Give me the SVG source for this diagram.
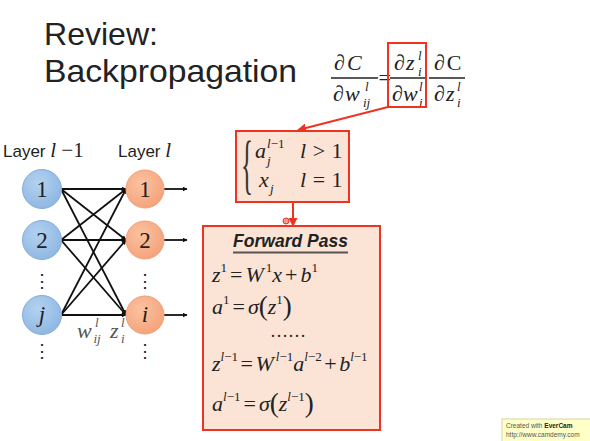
<svg xmlns="http://www.w3.org/2000/svg" width="590" height="441" viewBox="0 0 590 441">
<style>
.title{font-family:"Liberation Sans",Arial,sans-serif;font-size:32px;fill:#222}
.m{font-family:"Liberation Serif","Times New Roman",serif;font-size:22px;fill:#222}
.i{font-style:italic}
.s{font-size:13px}
.lay{font-family:"Liberation Sans",Arial,sans-serif;font-size:17px;fill:#222}
.num{font-family:"Liberation Serif","Times New Roman",serif;font-size:23px;fill:#222;text-anchor:middle}
.edge{stroke:#111;stroke-width:1.8;fill:none}
.red{stroke:#ee3322;stroke-width:2;fill:none}
.box{fill:#fbe4d6;stroke:#ee3322;stroke-width:2}
.dots{font-family:"DejaVu Serif",serif;font-size:18px;fill:#222;text-anchor:middle}
</style>
<defs>
<marker id="ab" viewBox="0 0 10 10" refX="9" refY="5" markerWidth="5" markerHeight="5" orient="auto-start-reverse" markerUnits="userSpaceOnUse"><path d="M0,0 L10,5 L0,10 z" fill="#111"/></marker>
<marker id="ar" viewBox="0 0 10 10" refX="9" refY="5" markerWidth="9" markerHeight="9" orient="auto" markerUnits="userSpaceOnUse"><path d="M0,0 L10,5 L0,10 z" fill="#ee3322"/></marker>
<radialGradient id="gb" cx="0.4" cy="0.35" r="0.7"><stop offset="0" stop-color="#b4d2f0"/><stop offset="1" stop-color="#8db6e2"/></radialGradient>
<radialGradient id="go" cx="0.4" cy="0.35" r="0.7"><stop offset="0" stop-color="#fbc2a0"/><stop offset="1" stop-color="#f4a27a"/></radialGradient>
</defs>

<g id="title">
<text class="title" x="44" y="45" textLength="114" lengthAdjust="spacingAndGlyphs">Review:</text>
<text class="title" x="44" y="82" textLength="253" lengthAdjust="spacingAndGlyphs">Backpropagation</text>
</g>

<g id="main-equation">
<text class="m" x="334" y="70" letter-spacing="2">∂<tspan class="i">C</tspan></text>
<line x1="331" y1="78" x2="378" y2="78" stroke="#222" stroke-width="1.3"/>
<text class="m" x="333" y="101" letter-spacing="1">∂<tspan class="i">w</tspan></text>
<text class="m i s" x="365" y="91">l</text>
<text class="m i s" x="363" y="107">ij</text>
<text class="m" x="378.5" y="85">=</text>
<text class="m" x="394" y="70" letter-spacing="1">∂<tspan class="i">z</tspan></text>
<text class="m i s" x="418" y="60">l</text>
<text class="m i s" x="418" y="76">i</text>
<line x1="390" y1="78" x2="425" y2="78" stroke="#222" stroke-width="1.3"/>
<text class="m" x="392" y="101">∂<tspan class="i">w</tspan></text>
<text class="m i s" x="419" y="91">l</text>
<text class="m i s" x="419" y="107">i</text>
<text class="m" x="434" y="70" letter-spacing="2">∂C</text>
<line x1="429" y1="78" x2="465" y2="78" stroke="#222" stroke-width="1.3"/>
<text class="m" x="434" y="101" letter-spacing="1">∂<tspan class="i">z</tspan></text>
<text class="m i s" x="457" y="91">l</text>
<text class="m i s" x="457" y="107">i</text>
</g>

<g id="highlight">
<rect x="388" y="43" width="38" height="64" class="red"/>
</g>

<g id="network-labels">
<text class="lay" x="3" y="157">Layer <tspan class="m i" style="font-size:21px">l</tspan><tspan class="m" style="font-size:21px"> −1</tspan></text>
<text class="lay" x="118" y="157">Layer <tspan class="m i" style="font-size:21px">l</tspan></text>
</g>

<g id="connectors">
<line class="edge" x1="61" y1="189" x2="126" y2="189" marker-end="url(#ab)"/>
<line class="edge" x1="61" y1="189" x2="126" y2="240" marker-end="url(#ab)"/>
<line class="edge" x1="61" y1="189" x2="126" y2="315" marker-end="url(#ab)"/>
<line class="edge" x1="61" y1="240" x2="126" y2="189" marker-end="url(#ab)"/>
<line class="edge" x1="61" y1="240" x2="126" y2="240" marker-end="url(#ab)"/>
<line class="edge" x1="61" y1="240" x2="126" y2="315" marker-end="url(#ab)"/>
<line class="edge" x1="61" y1="315" x2="126" y2="189" marker-end="url(#ab)"/>
<line class="edge" x1="61" y1="315" x2="126" y2="240" marker-end="url(#ab)"/>
<line class="edge" x1="61" y1="315" x2="126" y2="315" marker-end="url(#ab)"/>
<line class="edge" x1="164" y1="189" x2="187" y2="189" marker-end="url(#ab)"/>
<line class="edge" x1="164" y1="240" x2="187" y2="240" marker-end="url(#ab)"/>
<line class="edge" x1="164" y1="315" x2="187" y2="315" marker-end="url(#ab)"/>
<line class="red" x1="388" y1="107" x2="298" y2="130" marker-end="url(#ar)"/>
<line class="red" x1="293" y1="202" x2="293" y2="226" marker-end="url(#ar)"/>
<circle cx="286" cy="221" r="3" fill="#f29a8a" stroke="#ee3322" stroke-width="1"/>
</g>

<g id="node-b1"><circle cx="42" cy="189" r="19.5" fill="url(#gb)" stroke="#86add9" stroke-width="1"/><text class="num" x="42" y="197">1</text></g>
<g id="node-b2"><circle cx="42" cy="240" r="19.5" fill="url(#gb)" stroke="#86add9" stroke-width="1"/><text class="num" x="42" y="248">2</text></g>
<g id="node-bj"><circle cx="42" cy="315" r="19.5" fill="url(#gb)" stroke="#86add9" stroke-width="1"/><text class="num i" x="42" y="322">j</text></g>
<g id="node-o1"><circle cx="145" cy="189" r="19" fill="url(#go)" stroke="#f0a07a" stroke-width="1"/><text class="num" x="145" y="197">1</text></g>
<g id="node-o2"><circle cx="145" cy="240" r="19" fill="url(#go)" stroke="#f0a07a" stroke-width="1"/><text class="num" x="145" y="248">2</text></g>
<g id="node-oi"><circle cx="145" cy="315" r="19" fill="url(#go)" stroke="#f0a07a" stroke-width="1"/><text class="num i" x="145" y="322">i</text></g>

<g id="ellipses">
<text class="dots" x="42" y="287">⋮</text>
<text class="dots" x="145" y="287">⋮</text>
<text class="dots" x="42" y="357">⋮</text>
<text class="dots" x="145" y="357">⋮</text>
</g>

<g id="edge-labels">
<text class="m i" x="77" y="338" style="fill:#555">w</text>
<text class="m i s" x="95" y="327" style="fill:#555">l</text>
<text class="m i s" x="93.5" y="343" style="fill:#555">ij</text>
<text class="m i" x="110" y="338" style="fill:#555">z</text>
<text class="m i s" x="121" y="327" style="fill:#555">l</text>
<text class="m i s" x="121" y="343" style="fill:#555">i</text>
</g>

<g id="input-box">
<rect class="box" x="236" y="131" width="113" height="71"/>
<text class="m" transform="translate(241,186) scale(0.38,1)" style="font-size:66px;fill:#333">{</text>
<text class="m i" x="255" y="158">a</text>
<text class="m s" x="267" y="148"><tspan class="i">l</tspan>−1</text>
<text class="m i s" x="267" y="165">j</text>
<text class="m" x="300" y="158" word-spacing="1"><tspan class="i">l</tspan> &gt; 1</text>
<text class="m i" x="259" y="187">x</text>
<text class="m i s" x="270" y="193">j</text>
<text class="m" x="300" y="187" word-spacing="1"><tspan class="i">l</tspan> = 1</text>
</g>

<g id="forward-pass">
<rect class="box" x="203" y="226" width="177" height="204"/>
<text x="290.5" y="247" text-anchor="middle" textLength="115" lengthAdjust="spacingAndGlyphs" style="font-family:'Liberation Sans',Arial,sans-serif;font-size:18px;font-weight:bold;font-style:italic;fill:#222">Forward Pass</text>
<line x1="233" y1="252.5" x2="348" y2="252.5" stroke="#555" stroke-width="2"/>
<text class="m" x="212" y="282"><tspan class="i">z</tspan><tspan class="s" dy="-10">1</tspan><tspan dy="10" dx="3">=</tspan><tspan class="i" dx="3">W</tspan><tspan class="s" dy="-10" dx="2">1</tspan><tspan class="i" dy="10">x</tspan><tspan dx="3">+</tspan><tspan class="i" dx="3">b</tspan><tspan class="s" dy="-10">1</tspan></text>
<text class="m" x="212" y="314"><tspan class="i">a</tspan><tspan class="s" dy="-10">1</tspan><tspan dy="10" dx="3">=</tspan><tspan class="i" dx="3">σ</tspan><tspan style="font-size:27px" dy="1">(</tspan><tspan class="i" dy="-1">z</tspan><tspan class="s" dy="-10">1</tspan><tspan style="font-size:27px" dy="11">)</tspan></text>
<text class="m" x="288" y="337" text-anchor="middle" style="font-size:18px">……</text>
<text class="m" x="212" y="371"><tspan class="i">z</tspan><tspan class="s" dy="-10"><tspan class="i">l</tspan>−1</tspan><tspan dy="10" dx="2.5">=</tspan><tspan class="i" dx="2.5">W</tspan><tspan class="s" dy="-10" dx="2"><tspan class="i">l</tspan>−1</tspan><tspan class="i" dy="10">a</tspan><tspan class="s" dy="-10"><tspan class="i">l</tspan>−2</tspan><tspan dy="10" dx="2.5">+</tspan><tspan class="i" dx="2.5">b</tspan><tspan class="s" dy="-10"><tspan class="i">l</tspan>−1</tspan></text>
<text class="m" x="212" y="411"><tspan class="i">a</tspan><tspan class="s" dy="-10"><tspan class="i">l</tspan>−1</tspan><tspan dy="10" dx="3">=</tspan><tspan class="i" dx="3">σ</tspan><tspan style="font-size:27px" dy="1">(</tspan><tspan class="i" dy="-1">z</tspan><tspan class="s" dy="-10"><tspan class="i">l</tspan>−1</tspan><tspan style="font-size:27px" dy="11">)</tspan></text>
</g>

<g id="watermark">
<rect x="502" y="419" width="92" height="26" fill="#ffffc8" stroke="#d6d6a0" stroke-width="1"/>
<text x="506" y="428" style="font-family:'Liberation Sans',Arial,sans-serif;font-size:6.5px;fill:#555">Created with <tspan font-weight="bold" fill="#222">EverCam</tspan></text>
<text x="506" y="437" style="font-family:'Liberation Sans',Arial,sans-serif;font-size:6.5px;fill:#555">http://www.camdemy.com</text>
</g>
</svg>
